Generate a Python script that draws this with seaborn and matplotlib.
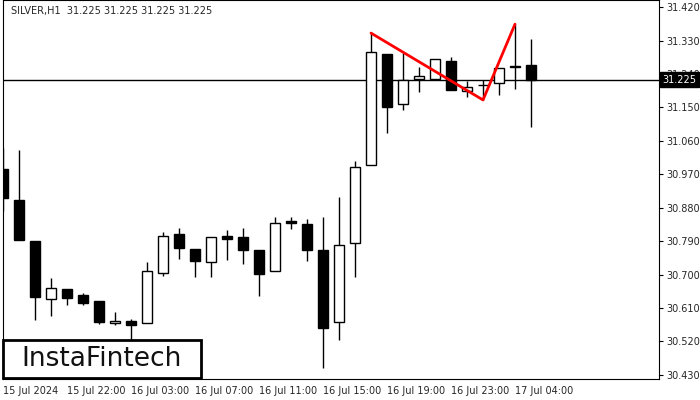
import matplotlib
matplotlib.use("Agg")
import matplotlib.pyplot as plt
import seaborn as sns
import pandas as pd
from matplotlib.patches import Rectangle

opens  = [30.984,30.901,30.790,30.635,30.661,30.645,30.629,30.570,30.575,30.570,30.704,30.809,30.769,30.734,30.804,30.801,30.766,30.710,30.844,30.836,30.766,30.573,30.785,30.995,31.294,31.159,31.226,31.226,31.275,31.194,31.210,31.215,31.259,31.264]
closes = [30.906,30.793,30.640,30.664,30.637,30.624,30.573,30.575,30.565,30.710,30.804,30.772,30.737,30.801,30.796,30.766,30.702,30.839,30.839,30.766,30.557,30.780,30.990,31.299,31.151,31.224,31.234,31.280,31.197,31.205,31.210,31.256,31.259,31.225]
highs  = [31.041,31.035,30.790,30.691,30.661,30.650,30.629,30.600,30.581,30.734,30.815,30.826,30.769,30.801,30.820,30.826,30.766,30.855,30.855,30.850,30.855,30.909,31.006,31.350,31.294,31.296,31.259,31.280,31.286,31.221,31.224,31.256,31.374,31.334]
lows   = [30.871,30.793,30.578,30.589,30.618,30.618,30.567,30.565,30.524,30.570,30.696,30.742,30.694,30.694,30.739,30.729,30.643,30.710,30.823,30.737,30.449,30.524,30.694,30.995,31.081,31.143,31.191,31.223,31.197,31.178,31.170,31.183,31.199,31.097]
tick_idx = [0,4,8,12,16,20,24,28,32]
tick_labels = ["15 Jul 2024","15 Jul 22:00","16 Jul 03:00","16 Jul 07:00","16 Jul 11:00","16 Jul 15:00","16 Jul 19:00","16 Jul 23:00","17 Jul 04:00"]
y_ticks = [31.420,31.330,31.240,31.150,31.060,30.970,30.880,30.790,30.700,30.610,30.520,30.430]
pattern_idx = [23,30,32]
pattern_val = [31.350,31.170,31.374]
last_price = 31.225

sns.set_style("white")
plt.rcParams['font.family'] = ['DejaVu Sans']
fig = plt.figure(figsize=(7,4), dpi=100)
ax = fig.add_axes([3/700, 21/400, 656/700, 379/400])
W = 0.62
for i,(o,c,h,l) in enumerate(zip(opens,closes,highs,lows)):
    ax.vlines(i, l, h, color='black', lw=1, zorder=2)
    bot, top = min(o,c), max(o,c)
    ax.add_patch(Rectangle((i-W/2, bot), W, max(top-bot, 0.0015),
                 facecolor='white' if c>=o else 'black', edgecolor='black', lw=1, zorder=3))
df = pd.DataFrame({"x": pattern_idx, "y": pattern_val})
sns.lineplot(data=df, x="x", y="y", ax=ax, color='red', lw=2, zorder=4, sort=False)
ax.axhline(last_price, color='black', lw=1, zorder=1)
ax.set_xlim(0, 41)
ax.set_ylim(30.419, 31.439)
ax.set_xlabel(""); ax.set_ylabel("")
ax.yaxis.tick_right()
ax.set_yticks(y_ticks)
ax.set_yticklabels([f"{v:.3f}" for v in y_ticks], fontsize=7)
ax.set_xticks(tick_idx)
ax.set_xticklabels(tick_labels, fontsize=7, ha='left')
ax.tick_params(axis='both', length=3, width=0.8, color='black', pad=2, direction='out')
for s in ax.spines.values():
    s.set_color('black'); s.set_linewidth(0.8)
ax.text(0.012, 0.985, "SILVER,H1  31.225 31.225 31.225 31.225", transform=ax.transAxes,
        fontsize=7, va='top', ha='left')
ax.text(1.005, last_price, f"{last_price:.3f}", transform=ax.get_yaxis_transform(),
        fontsize=7, color='white', va='center', ha='left',
        bbox=dict(boxstyle='square,pad=0.25', fc='black', ec='black'), clip_on=False, zorder=10)
fig.patches.append(Rectangle((3/700, 22/400), 198/700, 38/400, transform=fig.transFigure,
                   facecolor='white', edgecolor='black', lw=2, zorder=20))
fig.text(102/700, 41/400, "InstaFintech", fontsize=19, ha='center', va='center', color='#111111', zorder=21)
fig.savefig("out.png", dpi=100)
